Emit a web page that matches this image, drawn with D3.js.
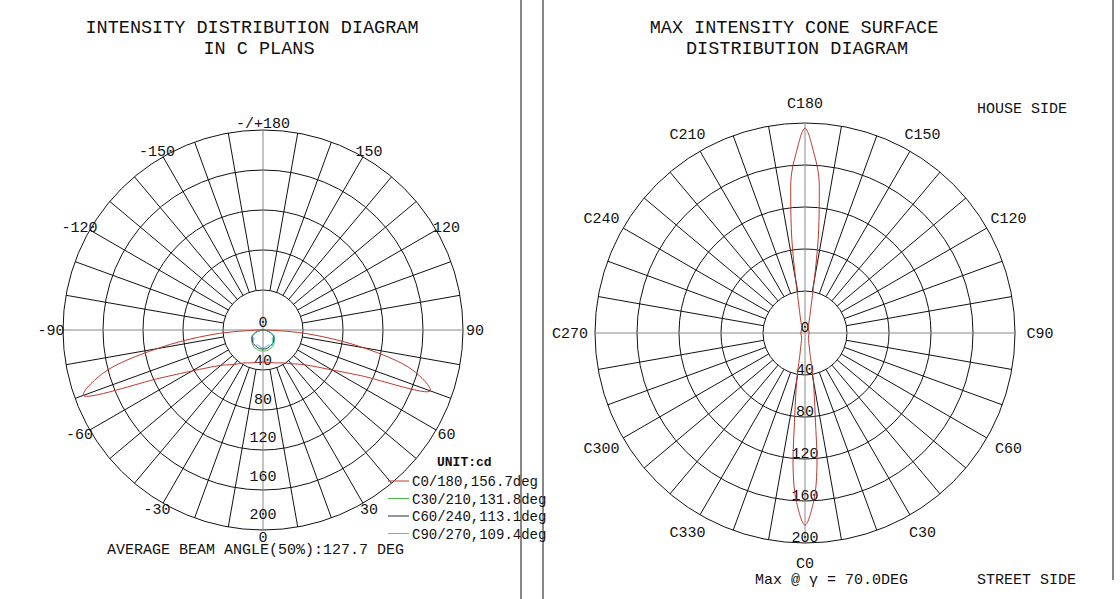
<!DOCTYPE html>
<html><head><meta charset="utf-8">
<script src="https://cdn.jsdelivr.net/npm/d3@7"></script>
<style>
body{margin:0;background:#fff}
text{font-family:"Liberation Mono","DejaVu Sans Mono",monospace;fill:#111}
</style></head><body>
<svg id="c" width="1120" height="599"></svg>
<script>
// ring values (cd)
const rings = [40, 80, 120, 160, 200]
const leftAngleLabels = [-150, -120, -90, -60, -30, 0, 30, 60, 90, 120, 150, 180]
const rightAngleLabels = [0, 30, 60, 90, 120, 150, 180, 210, 240, 270, 300, 330]

// intensity in C planes, gamma -90..90 (negative = C180 side)
const gammas = [-90, -85, -80, -75, -70, -65, -60, -50, -40, -30, -20, -10, 0, 10, 20, 30, 40, 50, 60, 65, 70, 75, 80, 85, 90]
const c0_180 = [4, 50, 108, 165, 191, 114, 82, 55, 45, 38, 35, 33, 32, 33, 35, 38, 44, 54, 80, 108, 178, 155, 102, 46, 4]
const c30_210 = [0, 2, 4, 7, 9, 11, 13, 15, 17, 19, 20, 21, 21, 21, 20, 19, 17, 15, 13, 11, 9, 7, 4, 2, 0]
const c60_240 = [0, 2, 3, 6, 8, 10, 12, 14, 16, 17, 18, 19, 19, 19, 18, 17, 16, 14, 12, 10, 8, 6, 3, 2, 0]
const c90_270 = [0, 2, 3, 5, 8, 11, 13, 12, 15, 18, 16, 17, 18, 17, 16, 18, 15, 12, 13, 11, 8, 5, 3, 2, 0]

// max intensity cone (gamma = 70) vs C angle
const cAngles = [0, 3, 5, 7, 10, 13, 17, 25, 40, 90, 140, 155, 163, 167, 170, 172, 174, 175, 177, 180, 183, 185, 186, 188, 190, 193, 197, 205, 220, 270, 320, 335, 343, 347, 350, 353, 355, 357]
const cone = [183, 160, 130, 80, 45, 22, 14, 8, 5, 4, 5, 8, 15, 25, 50, 90, 130, 150, 170, 195, 170, 150, 130, 90, 50, 25, 15, 8, 5, 4, 5, 8, 14, 22, 45, 80, 130, 160]

const legend = [
  {name: "C0/180,156.7deg", color: "#c0392b"},
  {name: "C30/210,131.8deg", color: "#4cb84c"},
  {name: "C60/240,113.1deg", color: "#2b2b45"},
  {name: "C90/270,109.4deg", color: "#35c6dc"}
]

const svg = d3.select("#c")
const rad = a => a * Math.PI / 180

function polarGrid(cx, cy, R, labelOff) {
  const g = svg.append("g")
  const r = d3.scaleLinear().domain([0, 200]).range([0, R])
  g.selectAll("circle").data(rings).join("circle")
    .attr("cx", cx).attr("cy", cy).attr("r", d => r(d))
    .attr("fill", "none").attr("stroke", "#111").attr("stroke-width", 1)
  const spokes = d3.range(0, 360, 10).filter(a => a % 90 !== 0)
  g.selectAll("line.s").data(spokes).join("line").attr("class", "s")
    .attr("x1", a => cx + r(40) * Math.sin(rad(a)))
    .attr("y1", a => cy + r(40) * Math.cos(rad(a)))
    .attr("x2", a => cx + R * Math.sin(rad(a)))
    .attr("y2", a => cy + R * Math.cos(rad(a)))
    .attr("stroke", "#111").attr("stroke-width", 1)
  g.append("line").attr("x1", cx - R).attr("x2", cx + R).attr("y1", cy).attr("y2", cy).attr("stroke", "#888")
  g.append("line").attr("x1", cx).attr("x2", cx).attr("y1", cy - R).attr("y2", cy + R).attr("stroke", "#888")
  g.selectAll("text.rl").data([0].concat(rings)).join("text").attr("class", "rl")
    .attr("x", cx).attr("y", d => cy + labelOff(r(d)))
    .attr("text-anchor", "middle").attr("font-size", 15).text(d => d)
  return r
}

function curve(cx, cy, r, angles, vals, color) {
  const pts = angles.map((a, i) => [cx + r(vals[i]) * Math.sin(rad(a)), cy + r(vals[i]) * Math.cos(rad(a))])
  svg.append("path").attr("d", d3.line().curve(d3.curveCatmullRomClosed)(pts))
    .attr("fill", "none").attr("stroke", color).attr("stroke-width", 1)
}

// left chart
const L = {cx: 263, cy: 330, R: 200}
const rL = polarGrid(L.cx, L.cy, L.R, p => p * 0.96 - 3)
curve(L.cx, L.cy, rL, gammas, c30_210, legend[1].color)
curve(L.cx, L.cy, rL, gammas, c60_240, legend[2].color)
curve(L.cx, L.cy, rL, gammas, c90_270, legend[3].color)
curve(L.cx, L.cy, rL, gammas, c0_180, legend[0].color)
svg.selectAll("text.la").data(leftAngleLabels).join("text").attr("class", "la")
  .attr("x", a => L.cx + 212 * Math.sin(rad(a)))
  .attr("y", a => L.cy + 207 * Math.cos(rad(a)) + 5)
  .attr("text-anchor", "middle").attr("font-size", 15)
  .text(a => a === 180 ? "-/+180" : a)

// right chart
const Rc = {cx: 805, cy: 333, R: 210}
const rR = polarGrid(Rc.cx, Rc.cy, Rc.R, p => p - 1)
curve(Rc.cx, Rc.cy, rR, cAngles, cone, legend[0].color)
svg.selectAll("text.ra").data(rightAngleLabels).join("text").attr("class", "ra")
  .attr("x", a => Rc.cx + 235 * Math.sin(rad(a)))
  .attr("y", a => Rc.cy + 230 * Math.cos(rad(a)) + 5)
  .attr("text-anchor", "middle").attr("font-size", 15)
  .text(a => "C" + a)

// titles
const titles = [[252, 33, "INTENSITY DISTRIBUTION DIAGRAM"], [259, 54, "IN C PLANS"],
  [794, 33, "MAX INTENSITY CONE SURFACE"], [797, 54, "DISTRIBUTION DIAGRAM"]]
svg.selectAll("text.t").data(titles).join("text").attr("class", "t")
  .attr("x", d => d[0]).attr("y", d => d[1]).attr("text-anchor", "middle")
  .attr("font-size", 18.5).text(d => d[2])

// legend
svg.append("text").attr("x", 437).attr("y", 466).attr("font-size", 13).attr("font-weight", "bold").text("UNIT:cd")
const lg = svg.selectAll("g.lg").data(legend).join("g").attr("class", "lg")
  .attr("transform", (d, i) => `translate(388,${481 + i * 17.5})`)
lg.append("line").attr("x1", 0).attr("x2", 21).attr("stroke", d => d.color)
lg.append("text").attr("x", 24).attr("y", 5).attr("font-size", 14).text(d => d.name)

svg.append("text").attr("x", 107).attr("y", 554).attr("font-size", 15).text("AVERAGE BEAM ANGLE(50%):127.7 DEG")
svg.append("text").attr("x", 755).attr("y", 584).attr("font-size", 15).text("Max @ γ = 70.0DEG")
svg.append("text").attr("x", 977).attr("y", 113).attr("font-size", 15).text("HOUSE SIDE")
svg.append("text").attr("x", 977).attr("y", 584).attr("font-size", 15).text("STREET SIDE")

// panel dividers
;[[521, 0, 599], [543, 0, 599], [1113, 0, 580]].forEach(d =>
  svg.append("line").attr("x1", d[0]).attr("x2", d[0]).attr("y1", d[1]).attr("y2", d[2]).attr("stroke", "#111"))
</script>
</body></html>
